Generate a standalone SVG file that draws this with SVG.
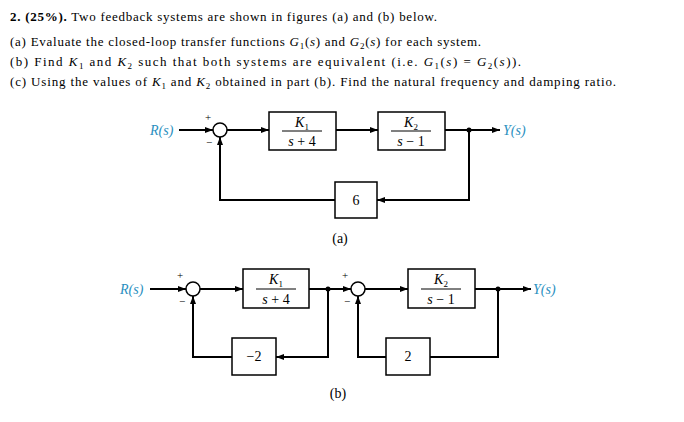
<svg xmlns="http://www.w3.org/2000/svg" width="684" height="422" viewBox="0 0 684 422">
<defs>
<marker id="ah" markerWidth="8" markerHeight="6" refX="8" refY="3" orient="auto" markerUnits="userSpaceOnUse"><path d="M0,0 L8,3 L0,6 z" fill="#000"/></marker>
<style>
.t{font-family:"Liberation Serif",serif;font-size:13px;fill:#000}
.m{font-family:"Liberation Serif",serif;font-size:14px;fill:#000;text-anchor:middle}
.io{font-family:"Liberation Serif",serif;font-size:14px;font-style:italic;fill:#2a8fc0}
.ln{stroke:#000;stroke-width:2;fill:none}
.bx{stroke:#000;stroke-width:1.5;fill:#fff}
.s{font-family:"Liberation Serif",serif;font-size:11px;fill:#000;text-anchor:middle}
</style>
</defs>
<rect width="684" height="422" fill="#fff"/>
<g id="header">
<text class="t" x="10" y="21" textLength="427" lengthAdjust="spacing"><tspan font-weight="bold">2. (25%).</tspan> Two feedback systems are shown in figures (a) and (b) below.</text>
<text class="t" x="10" y="46" textLength="471" lengthAdjust="spacing">(a) Evaluate the closed-loop transfer functions <tspan font-style="italic">G</tspan><tspan font-size="9" dy="3">1</tspan><tspan dy="-3">(</tspan><tspan font-style="italic">s</tspan>) and <tspan font-style="italic">G</tspan><tspan font-size="9" dy="3">2</tspan><tspan dy="-3">(</tspan><tspan font-style="italic">s</tspan>) for each system.</text>
<text class="t" x="10" y="66" textLength="511" lengthAdjust="spacing">(b) Find <tspan font-style="italic">K</tspan><tspan font-size="9" dy="3">1</tspan><tspan dy="-3"> and </tspan><tspan font-style="italic">K</tspan><tspan font-size="9" dy="3">2</tspan><tspan dy="-3"> such that both systems are equivalent (i.e. </tspan><tspan font-style="italic">G</tspan><tspan font-size="9" dy="3">1</tspan><tspan dy="-3">(</tspan><tspan font-style="italic">s</tspan>) = <tspan font-style="italic">G</tspan><tspan font-size="9" dy="3">2</tspan><tspan dy="-3">(</tspan><tspan font-style="italic">s</tspan>)).</text>
<text class="t" x="10" y="86" textLength="606" lengthAdjust="spacing">(c) Using the values of <tspan font-style="italic">K</tspan><tspan font-size="9" dy="3">1</tspan><tspan dy="-3"> and </tspan><tspan font-style="italic">K</tspan><tspan font-size="9" dy="3">2</tspan><tspan dy="-3"> obtained in part (b). Find the natural frequency and damping ratio.</tspan></text>
</g>
<g id="connectors">
<!-- (a) -->
<line class="ln" x1="179" y1="130" x2="213" y2="130" marker-end="url(#ah)"/>
<line class="ln" x1="227" y1="130" x2="269" y2="130" marker-end="url(#ah)"/>
<line class="ln" x1="336" y1="130" x2="378" y2="130" marker-end="url(#ah)"/>
<line class="ln" x1="445" y1="130" x2="500" y2="130" marker-end="url(#ah)"/>
<polyline class="ln" points="469,130 469,200 377,200" marker-end="url(#ah)"/>
<polyline class="ln" points="335,200 220,200 220,137" marker-end="url(#ah)"/>
<circle cx="469" cy="130" r="2.5" fill="#000"/>
<!-- (b) -->
<line class="ln" x1="150" y1="289" x2="186" y2="289" marker-end="url(#ah)"/>
<line class="ln" x1="200" y1="289" x2="243" y2="289" marker-end="url(#ah)"/>
<line class="ln" x1="309" y1="289" x2="351" y2="289" marker-end="url(#ah)"/>
<line class="ln" x1="365" y1="289" x2="408" y2="289" marker-end="url(#ah)"/>
<line class="ln" x1="475" y1="289" x2="531" y2="289" marker-end="url(#ah)"/>
<polyline class="ln" points="328,289 328,357 276,357" marker-end="url(#ah)"/>
<polyline class="ln" points="232,357 193,357 193,296" marker-end="url(#ah)"/>
<polyline class="ln" points="498,289 498,357 430,357"/>
<polyline class="ln" points="386,357 358,357 358,296" marker-end="url(#ah)"/>
<circle cx="328" cy="289" r="2.5" fill="#000"/>
<circle cx="498" cy="289" r="2.5" fill="#000"/>
</g>
<g id="a_labels">
<text class="io" x="150" y="135">R(s)</text>
<text class="io" x="503" y="135">Y(s)</text>
<text class="s" x="208" y="121">+</text>
<text class="s" x="209" y="146">−</text>
<text class="m" x="340" y="243">(a)</text>
</g>
<g id="a_sum"><circle cx="220" cy="130" r="7" fill="#fff" stroke="#000" stroke-width="1.5"/></g>
<g id="a_k1"><rect class="bx" x="269" y="112" width="67" height="38"/><text class="m" x="302" y="127" font-style="italic">K<tspan font-size="9" dy="3" font-style="normal">1</tspan></text><line x1="282" y1="131" x2="322" y2="131" stroke="#000"/><text class="m" x="302" y="146"><tspan font-style="italic">s</tspan> + 4</text></g>
<g id="a_k2"><rect class="bx" x="378" y="112" width="67" height="38"/><text class="m" x="411" y="127" font-style="italic">K<tspan font-size="9" dy="3" font-style="normal">2</tspan></text><line x1="391" y1="131" x2="431" y2="131" stroke="#000"/><text class="m" x="411" y="146"><tspan font-style="italic">s</tspan> − 1</text></g>
<g id="a_h"><rect class="bx" x="335" y="182" width="42" height="36"/><text class="m" x="356" y="205">6</text></g>
<g id="b_labels">
<text class="io" x="120" y="294">R(s)</text>
<text class="io" x="533" y="294">Y(s)</text>
<text class="s" x="180" y="279">+</text>
<text class="s" x="182" y="305">−</text>
<text class="s" x="345" y="279">+</text>
<text class="s" x="347" y="305">−</text>
<text class="m" x="338" y="398">(b)</text>
</g>
<g id="b_sum1"><circle cx="193" cy="289" r="7" fill="#fff" stroke="#000" stroke-width="1.5"/></g>
<g id="b_sum2"><circle cx="358" cy="289" r="7" fill="#fff" stroke="#000" stroke-width="1.5"/></g>
<g id="b_k1"><rect class="bx" x="243" y="269" width="66" height="39"/><text class="m" x="276" y="284" font-style="italic">K<tspan font-size="9" dy="3" font-style="normal">1</tspan></text><line x1="256" y1="289" x2="296" y2="289" stroke="#000"/><text class="m" x="276" y="304"><tspan font-style="italic">s</tspan> + 4</text></g>
<g id="b_k2"><rect class="bx" x="408" y="269" width="67" height="39"/><text class="m" x="441" y="284" font-style="italic">K<tspan font-size="9" dy="3" font-style="normal">2</tspan></text><line x1="421" y1="289" x2="461" y2="289" stroke="#000"/><text class="m" x="441" y="304"><tspan font-style="italic">s</tspan> − 1</text></g>
<g id="b_h1"><rect class="bx" x="232" y="338" width="44" height="37"/><text class="m" x="254" y="361">−2</text></g>
<g id="b_h2"><rect class="bx" x="386" y="338" width="44" height="37"/><text class="m" x="408" y="361">2</text></g>
</svg>
